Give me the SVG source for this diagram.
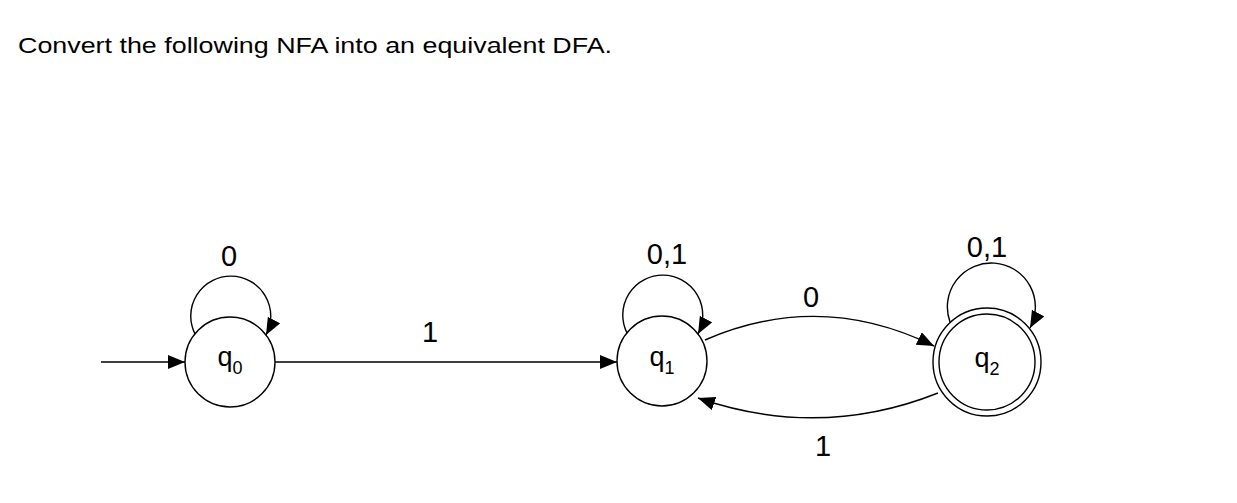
<svg xmlns="http://www.w3.org/2000/svg" width="1237" height="503" viewBox="0 0 1237 503">
<style>
.st{fill:#fff;stroke:#000;stroke-width:1.4}
.e{fill:none;stroke:#000;stroke-width:1.4}
.lbl{font-family:"Liberation Sans",Arial,sans-serif;font-size:29px;fill:#000;text-anchor:middle}
.q{font-family:"Liberation Sans",Arial,sans-serif;font-size:27px;fill:#000;text-anchor:middle}
.title{font-family:"Liberation Sans",Arial,sans-serif;font-size:21.5px;fill:#000}
</style>
<defs>
<marker id="ah" markerUnits="userSpaceOnUse" markerWidth="20" markerHeight="16" refX="17" refY="7" orient="auto">
<path d="M0,0 L17,7 L0,14 z" fill="#000"/>
</marker>
</defs>
<rect width="1237" height="503" fill="#fff"/>
<text class="title" x="18" y="53" textLength="594" lengthAdjust="spacingAndGlyphs">Convert the following NFA into an equivalent DFA.</text>
<g id="connectors">
<line class="e" x1="101" y1="362" x2="185" y2="362" marker-end="url(#ah)"/>
<path class="e" d="M195,334 A40,40 0 1 1 266,335" marker-end="url(#ah)"/>
<line class="e" x1="275" y1="362" x2="617" y2="362" marker-end="url(#ah)"/>
<path class="e" d="M627,333 A40,40 0 1 1 698,334" marker-end="url(#ah)"/>
<path class="e" d="M705,340 Q820,290 934,346" marker-end="url(#ah)"/>
<path class="e" d="M938,393 Q820,440 698,398" marker-end="url(#ah)"/>
<path class="e" d="M950,322 A44,44 0 1 1 1030,328" marker-end="url(#ah)"/>
<text class="lbl" x="229" y="266">0</text>
<text class="lbl" x="430" y="342">1</text>
<text class="lbl" x="667" y="264">0,1</text>
<text class="lbl" x="811" y="307">0</text>
<text class="lbl" x="987" y="257">0,1</text>
<text class="lbl" x="823" y="456">1</text>
</g>
<g id="q0">
<circle class="st" cx="230" cy="362" r="45"/>
<text class="q" x="230" y="366">q<tspan font-size="18" dy="8">0</tspan></text>
</g>
<g id="q1">
<circle class="st" cx="662" cy="361" r="45"/>
<text class="q" x="662" y="366">q<tspan font-size="18" dy="8">1</tspan></text>
</g>
<g id="q2">
<circle class="st" cx="987" cy="362" r="54"/>
<circle class="st" cx="987" cy="362" r="48"/>
<text class="q" x="987" y="367">q<tspan font-size="18" dy="8">2</tspan></text>
</g>
</svg>
